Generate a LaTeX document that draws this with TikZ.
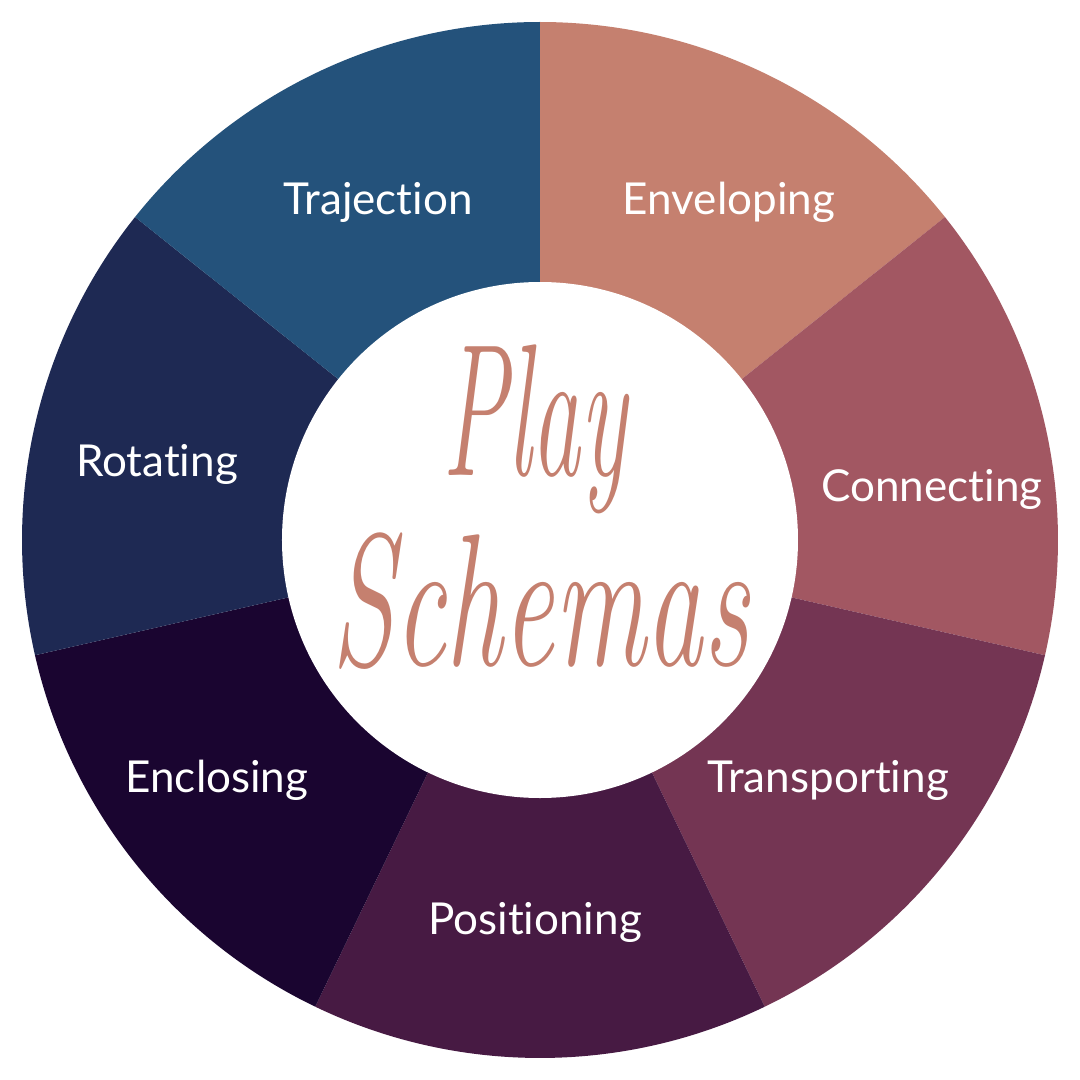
\documentclass[tikz,border=0pt]{standalone}
\usepackage{fontspec}
\setmainfont{Lato}[Ligatures={NoCommon,NoContextual}]
\newfontfamily\scriptfam{Latin Modern Roman}
\definecolor{cEnv}{HTML}{C5806F}
\definecolor{cCon}{HTML}{A25762}
\definecolor{cTra}{HTML}{743553}
\definecolor{cPos}{HTML}{471A43}
\definecolor{cEnc}{HTML}{1A0530}
\definecolor{cRot}{HTML}{1E2953}
\definecolor{cTrj}{HTML}{24527B}
\tikzset{
  seglabel/.style={text=white, font=\fontsize{44}{52}\selectfont, inner sep=0pt},
  titletext/.style={text=cEnv, inner sep=0pt, anchor=base}
}
\begin{document}
\begin{tikzpicture}[x=1pt,y=1pt]
\useasboundingbox (-540,-540) rectangle (540,540);
\fill[white] (-540,-540) rectangle (540,540);
\def\R{518}
\foreach \a/\b/\c in {90/38.571/cEnv, 38.571/-12.857/cCon, -12.857/-64.286/cTra, -64.286/-115.714/cPos, -115.714/-167.143/cEnc, -167.143/-218.571/cRot, -218.571/-270/cTrj}{
  \fill[\c] (0,0) -- (\a:\R) arc[start angle=\a, end angle=\b, radius=\R] -- cycle;
}
\fill[white] (0,0) circle[radius=258];
\node[seglabel] (trajection) at (-162,338) {Trajection};
\node[seglabel] (enveloping) at (189,338) {Enveloping};
\node[seglabel] (connecting) at (392,51) {Connecting};
\node[seglabel] (transporting) at (288,-240) {Transporting};
\node[seglabel] (positioning) at (-5,-382) {Positioning};
\node[seglabel] (enclosing) at (-323,-240) {Enclosing};
\node[seglabel] (rotating) at (-383,76) {Rotating};
\node[titletext] (play) at (-5,65) {\scalebox{0.75}[1.45]{\scriptfam\itshape\fontsize{130}{130}\selectfont Play}};
\node[titletext] (schemas) at (0,-125) {\scalebox{0.88}[1.45]{\scriptfam\itshape\fontsize{130}{130}\selectfont Schemas}};
\end{tikzpicture}
\end{document}
